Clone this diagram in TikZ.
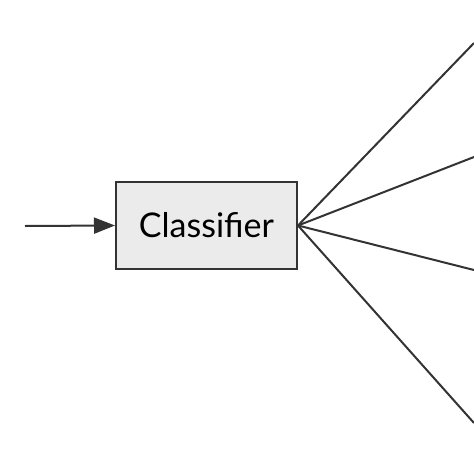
\documentclass[tikz,border=0pt]{standalone}
\usepackage{fontspec}
\setmainfont{Lato}
\usetikzlibrary{arrows.meta}
\definecolor{boxgray}{HTML}{EBEBEB}
\definecolor{inkgray}{HTML}{333333}

\begin{document}
\begin{tikzpicture}[x=1pt, y=-1pt, line width=2pt, draw=inkgray]

\useasboundingbox (0,0) rectangle (474,474);

\tikzstyle{every node}=[rectangle, fill=boxgray, draw=inkgray, line width=2pt,
  minimum width=181pt, minimum height=87pt, inner sep=0pt, text=black,
  font=\fontsize{34}{40}\selectfont]
\draw    (206.5, 225.5)  node (clf) {Classifier};

\coordinate (src)  at (25, 226);
\coordinate (out1) at (474, 43);
\coordinate (out2) at (474, 157);
\coordinate (out3) at (474, 270);
\coordinate (out4) at (474, 423);

\draw [-{Triangle[length=21pt, width=16pt]}] (src) -- (clf.west);
\draw (clf.east) -- (out1);
\draw (clf.east) -- (out2);
\draw (clf.east) -- (out3);
\draw (clf.east) -- (out4);

\end{tikzpicture}
\end{document}
